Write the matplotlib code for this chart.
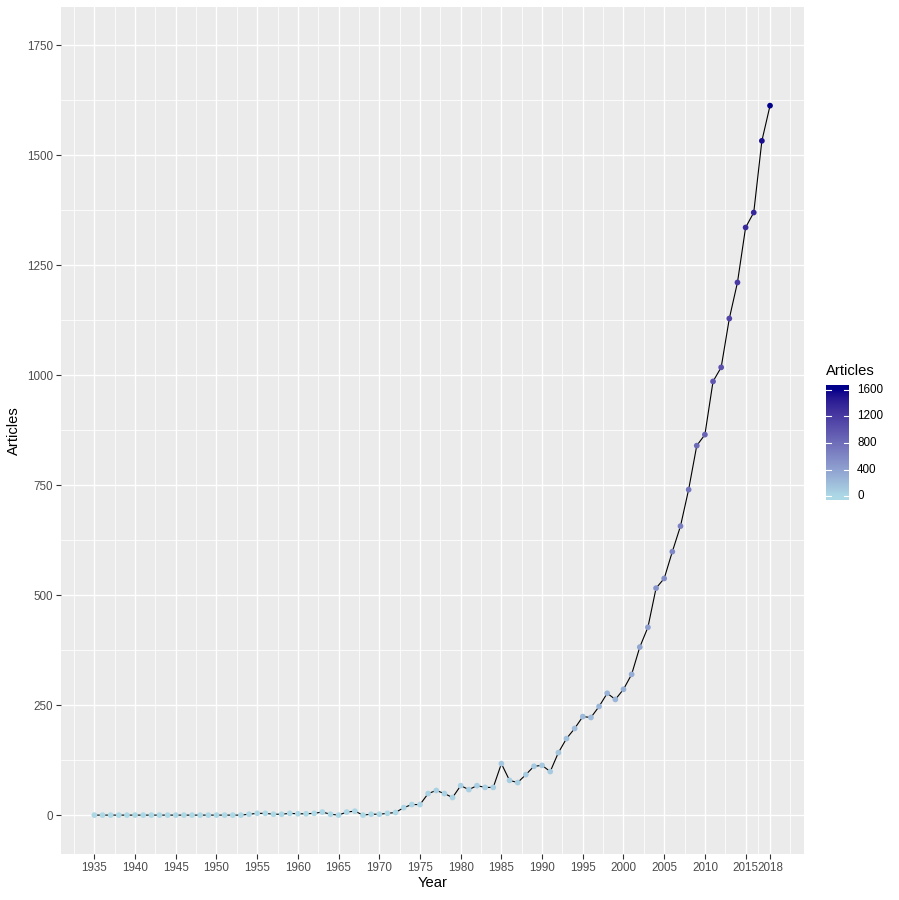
import numpy as np
import matplotlib
matplotlib.use("Agg")
import matplotlib.pyplot as plt
from matplotlib.colors import ListedColormap, Normalize

plt.rcParams["font.family"] = ["Liberation Sans", "DejaVu Sans"]

# data
years = list(range(1935, 2019))
articles = [
    0, 0, 0, 0, 0, 0, 0, 0, 0, 0,            # 1935-1944
    0, 0, 0, 0, 0, 0, 0, 0, 0, 2,            # 1945-1954
    4, 4, 2, 2, 4, 3, 3, 4, 7, 2,            # 1955-1964
    0, 7, 9, 0, 2, 2, 4, 6, 17, 24,          # 1965-1974
    24, 49, 56, 49, 40, 67, 58, 67, 63, 63,  # 1975-1984
    117, 79, 74, 92, 111, 113, 99, 142, 174, 197,  # 1985-1994
    224, 222, 247, 277, 263, 286, 320, 382, 427, 516,  # 1995-2004
    538, 599, 657, 740, 840, 865, 986, 1018, 1129, 1211,  # 2005-2014
    1336, 1370, 1533, 1613,                  # 2015-2018
]
x_breaks = list(range(1935, 2016, 5)) + [2018]
y_breaks = [0, 250, 500, 750, 1000, 1250, 1500, 1750]
legend_breaks = [0, 400, 800, 1200, 1600]


# ggplot-like gradient: lightblue -> darkblue interpolated in Lab space
def srgb_to_lab(rgb):
    rgb = np.asarray(rgb, float)
    lin = np.where(rgb <= 0.04045, rgb / 12.92, ((rgb + 0.055) / 1.055) ** 2.4)
    M = np.array([[0.4124, 0.3576, 0.1805],
                  [0.2126, 0.7152, 0.0722],
                  [0.0193, 0.1192, 0.9505]])
    xyz = M @ lin / np.array([0.95047, 1.0, 1.08883])
    f = np.where(xyz > 0.008856, np.cbrt(xyz), 7.787 * xyz + 16 / 116)
    return np.array([116 * f[1] - 16, 500 * (f[0] - f[1]), 200 * (f[1] - f[2])])


def lab_to_srgb(lab):
    L, a, b = lab
    fy = (L + 16) / 116
    fx = fy + a / 500
    fz = fy - b / 200
    f = np.array([fx, fy, fz])
    xyz = np.where(f ** 3 > 0.008856, f ** 3, (f - 16 / 116) / 7.787)
    xyz = xyz * np.array([0.95047, 1.0, 1.08883])
    Minv = np.array([[3.2406, -1.5372, -0.4986],
                     [-0.9689, 1.8758, 0.0415],
                     [0.0557, -0.2040, 1.0570]])
    lin = Minv @ xyz
    rgb = np.where(lin <= 0.0031308, 12.92 * lin, 1.055 * np.clip(lin, 0, None) ** (1 / 2.4) - 0.055)
    return np.clip(rgb, 0, 1)


low = srgb_to_lab(matplotlib.colors.to_rgb("lightblue"))
high = srgb_to_lab(matplotlib.colors.to_rgb("darkblue"))
cmap = ListedColormap([lab_to_srgb(low + (high - low) * t) for t in np.linspace(0, 1, 256)])
norm = Normalize(vmin=min(articles), vmax=max(articles))

fig = plt.figure(figsize=(8.99, 9.0), dpi=100)
ax = fig.add_axes([60.6 / 899, 1 - 853.6 / 900, (803.8 - 60.6) / 899, (853.6 - 6.9) / 900])
ax.set_facecolor("#EBEBEB")

ax.plot(years, articles, color="black", linewidth=0.8, zorder=3)
ax.scatter(years, articles, c=articles, cmap=cmap, norm=norm, s=17, linewidths=0, zorder=4)

ax.set_xticks(x_breaks)
ax.set_yticks(y_breaks)
x_minor = [1932.5] + [b + 2.5 for b in range(1935, 2015, 5)] + [2016.5, 2020.5]
ax.set_xticks(x_minor, minor=True)
ax.set_yticks([b + 125 for b in y_breaks[:-1]], minor=True)
# limits set after the ticks so the tick lists do not widen the view
ax.set_xlim(1935 - 0.05 * 83, 2018 + 0.05 * 83)
ax.set_ylim(-87.5, 1837.5)
ax.grid(True, which="major", color="white", linewidth=1.0)
ax.grid(True, which="minor", color="white", linewidth=0.55)
ax.set_axisbelow(True)
for s in ax.spines.values():
    s.set_visible(False)
ax.tick_params(which="major", length=3.7, width=0.8, color="#333333",
               labelcolor="#4D4D4D", labelsize=8.4, pad=2)
ax.tick_params(which="minor", length=0)
ax.set_xlabel("Year", fontsize=10.6, labelpad=2)
ax.set_ylabel("Articles", fontsize=10.6, labelpad=4)

# colour bar legend
lax = fig.add_axes([826 / 899, 1 - 500 / 900, 22.5 / 899, 115 / 900])
lo, hi = -55, 1670
grad = np.linspace(lo, hi, 300).reshape(-1, 1)
lax.imshow(grad, aspect="auto", cmap=cmap, norm=norm, origin="lower", extent=[0, 1, lo, hi])
lax.set_xlim(0, 1)
lax.set_ylim(lo, hi)
lax.set_xticks([])
lax.set_yticks([])
for s in lax.spines.values():
    s.set_visible(False)
for b in legend_breaks:
    lax.plot([0, 0.2], [b, b], color="white", linewidth=0.8)
    lax.plot([0.8, 1], [b, b], color="white", linewidth=0.8)
    lax.text(1.38, b, str(b), va="center", ha="left", fontsize=8.4, color="black")
fig.text(826 / 899, 1 - 371 / 900, "Articles", fontsize=10.6, ha="left", va="center")

fig.savefig("out.png", dpi=100)
